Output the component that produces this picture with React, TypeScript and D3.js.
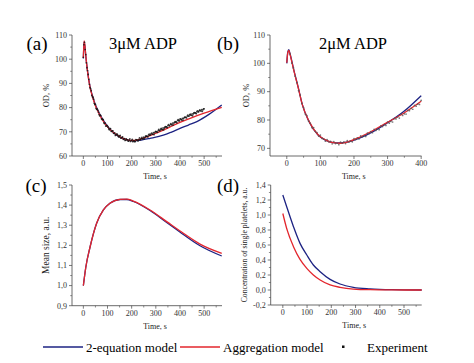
import React from "react";
import * as d3 from "d3";

// time axis (s) and values
const blueA_t = [0, 3, 6, 10, 17, 28, 38, 48, 65, 83, 104, 120, 138, 160, 186, 207, 240, 276, 331, 365, 400, 435, 470, 520, 573];
const blueA_v = [100.3, 107.2, 105.8, 101.5, 95.3, 88.5, 84.8, 81.7, 77.9, 74.7, 71.8, 70.1, 68.6, 67.4, 66.6, 66.3, 66.6, 67.3, 68.6, 69.9, 71.4, 72.8, 74.2, 77.2, 81.1];
const redA_t = [0, 3, 6, 10, 17, 28, 38, 48, 65, 83, 104, 120, 138, 160, 186, 205, 221, 262, 300, 331, 365, 400, 450, 500, 573];
const redA_v = [100.5, 107.6, 106, 101.5, 95.2, 88.2, 84.5, 81.3, 77.5, 74.3, 71.6, 70.1, 68.8, 67.5, 66.6, 66.4, 66.6, 67.9, 69.4, 70.7, 72.3, 73.9, 75.9, 77.7, 80.1];
const expA_t = d3.range(0, 501, 5);
const expA_v = [100.8, 107.0, 101.9, 96.5, 93.7, 89.6, 87.8, 85.1, 84.2, 81.8, 81.3, 79.3, 78.9, 77.1, 76.9, 75.4, 75.2, 73.7, 73.6, 72.4,
  72.4, 71.2, 71.3, 70.2, 70.4, 69.4, 69.6, 68.7, 69.0, 68.1, 68.3, 67.4, 67.7, 66.9, 67.2, 66.5, 66.8, 66.2, 66.6, 66.0,
  66.5, 65.9, 66.4, 66.0, 66.7, 66.3, 66.9, 66.7, 67.3, 67.1, 67.8, 67.6, 68.2, 68.1, 68.7, 68.6, 69.2, 69.1, 69.7, 69.6,
  70.2, 70.0, 70.6, 70.5, 71.1, 71.0, 71.6, 71.5, 72.1, 72.0, 72.6, 72.5, 73.1, 73.0, 73.6, 73.6, 74.2, 74.1, 74.7, 74.6,
  75.2, 75.0, 75.6, 75.5, 76.1, 76.0, 76.5, 76.5, 77.0, 76.9, 77.4, 77.4, 77.9, 77.8, 78.3, 78.2, 78.8, 78.7, 79.2, 79.1, 79.5];
const expA2_t = d3.range(2.5, 500, 5);
const expA2_v = [106.0, 104.0, 98.5, 95.3, 91.7, 88.3, 87.0, 84.5, 83.5, 81.3, 79.7, 79.4, 78.1, 76.6, 76.7, 75.1, 74.9, 73.4, 72.4, 72.7,
  71.9, 70.8, 71.3, 70.2, 70.4, 69.3, 68.5, 69.1, 68.6, 67.8, 68.5, 67.5, 67.9, 67.0, 66.4, 67.1, 66.7, 66.1, 67.1, 66.3,
  66.9, 66.2, 65.9, 66.8, 66.7, 66.3, 67.5, 66.9, 67.7, 67.2, 67.1, 68.2, 68.2, 67.9, 69.1, 68.7, 69.5, 69.0, 68.8, 70.0,
  70.0, 69.8, 71.0, 70.5, 71.4, 70.9, 70.8, 71.9, 72.0, 71.7, 73.0, 72.5, 73.4, 72.9, 72.8, 73.9, 74.0, 73.7, 75.0, 74.5,
  75.4, 74.9, 74.8, 75.9, 76.0, 75.7, 76.9, 76.5, 77.3, 76.8, 76.6, 77.8, 77.8, 77.5, 78.7, 78.3, 79.1, 78.6, 78.4, 79.5];

const blueB_t = [0, 3, 6, 10, 21, 34, 46, 66, 93, 115, 138, 160, 179, 218, 258, 298, 348, 400];
const blueB_v = [100, 104, 104.8, 103.2, 97.6, 91.5, 85.5, 79.5, 74.7, 72.9, 72, 71.9, 72.2, 73.7, 76.0, 78.9, 83.0, 88.6];
const redB_t = [0, 3, 6, 10, 21, 34, 46, 66, 93, 115, 138, 160, 179, 218, 258, 298, 348, 400];
const redB_v = [100.2, 103.8, 104.6, 103, 97.4, 91.4, 85.5, 79.6, 74.8, 73, 72, 71.8, 72.2, 74.0, 76.4, 79.1, 82.4, 86.6];
const expB_t = d3.range(10, 401, 5);
const expB_v = [103.3, 100.1, 98.4, 95.4, 93.2, 90.4, 88.8, 85.9, 84.4, 82.1, 81.6, 79.6, 78.8, 77.3, 77.3, 76.0, 75.6, 74.3, 74.7, 73.5,
  73.3, 72.5, 73.1, 72.3, 72.5, 71.6, 72.4, 71.7, 71.8, 71.3, 72.2, 71.8, 72.3, 71.7, 72.7, 72.2, 72.6, 72.3, 73.4, 73.1,
  73.7, 73.3, 74.4, 74.0, 74.5, 74.2, 75.4, 75.2, 75.9, 75.5, 76.7, 76.3, 76.8, 76.6, 77.9, 77.7, 78.4, 78.1, 79.3, 78.9,
  79.5, 79.3, 80.5, 80.4, 81.1, 80.7, 82.0, 81.6, 82.2, 82.1, 83.4, 83.3, 84.1, 83.8, 85.2, 84.9, 85.6, 85.5, 86.9];

const blueC_t = [0, 10, 28, 55, 83, 110, 152, 180, 207, 276, 345, 414, 483, 573];
const blueC_v = [1.0, 1.09, 1.193, 1.31, 1.376, 1.409, 1.428, 1.428, 1.418, 1.373, 1.314, 1.254, 1.198, 1.147];
const redC_t = [0, 10, 28, 55, 83, 110, 152, 180, 207, 276, 345, 414, 483, 573];
const redC_v = [1.0, 1.09, 1.193, 1.31, 1.376, 1.409, 1.429, 1.43, 1.42, 1.376, 1.318, 1.26, 1.206, 1.16];

const blueD_t = [0, 16, 44, 71, 99, 126, 154, 195, 236, 291, 360, 450, 573];
const blueD_v = [1.267, 1.11, 0.844, 0.622, 0.467, 0.333, 0.244, 0.142, 0.08, 0.036, 0.015, 0.004, 0.0];
const redD_t = [0, 16, 44, 71, 99, 126, 154, 195, 236, 291, 360, 450, 573];
const redD_v = [1.02, 0.82, 0.578, 0.409, 0.289, 0.2, 0.133, 0.067, 0.036, 0.013, 0.004, 0.001, 0.0];

const timeTicks = [0, 100, 200, 300, 400, 500];
const timeTicksB = [0, 100, 200, 300, 400];

const BLUE = "#1d2383";
const RED = "#e3262d";
const AXC = "#444";
const FONT = "\"Liberation Serif\", \"DejaVu Serif\", \"Times New Roman\", serif";

const zip = (t: number[], v: number[]) => t.map((d, i) => [d, v[i]] as [number, number]);
const comma = (d: number) => d3.format(".1f")(d).replace(".", ",").replace("\u2212", "-");

function Panel(props: any) {
  const { left, right, top, bottom, xDomain, yDomain, xTicks, yTicks, yMinorStep, yFmt, blue, red, exp, expColor, yLabel, yLabelX, yLabelSize } = props;
  const x = d3.scaleLinear().domain(xDomain).range([left, right]);
  const y = d3.scaleLinear().domain(yDomain).range([bottom, top]);
  const line = d3.line<[number, number]>().x(d => x(d[0])).y(d => y(d[1])).curve(d3.curveMonotoneX);
  const xMinor = d3.range(50, xDomain[1], 100);
  const yMinor = d3.range(yTicks[0] + yMinorStep, yDomain[1], yMinorStep * 2);
  return (
    <g>
      <line x1={left} x2={right} y1={bottom} y2={bottom} stroke={AXC} strokeWidth={0.8} />
      <line x1={left} x2={left} y1={top} y2={bottom} stroke={AXC} strokeWidth={0.8} />
      {xTicks.map((t: number) => (
        <g key={"x" + t}>
          <line x1={x(t)} x2={x(t)} y1={bottom} y2={bottom + 3} stroke={AXC} strokeWidth={0.7} />
          <text x={x(t)} y={bottom + 10} fontSize={8} textAnchor="middle" fill="#333">{t}</text>
        </g>
      ))}
      {xMinor.map((t: number) => (
        <line key={"xm" + t} x1={x(t)} x2={x(t)} y1={bottom} y2={bottom + 1.8} stroke={AXC} strokeWidth={0.6} />
      ))}
      {yTicks.map((t: number) => (
        <g key={"y" + t}>
          <line x1={left - 3} x2={left} y1={y(t)} y2={y(t)} stroke={AXC} strokeWidth={0.7} />
          <text x={left - 5} y={y(t) + 2.8} fontSize={8} textAnchor="end" fill="#333">{yFmt(t)}</text>
        </g>
      ))}
      {yMinor.map((t: number) => (
        <line key={"ym" + t} x1={left - 1.8} x2={left} y1={y(t)} y2={y(t)} stroke={AXC} strokeWidth={0.6} />
      ))}
      <path d={line(blue) || ""} fill="none" stroke={BLUE} strokeWidth={1.3} />
      <path d={line(red) || ""} fill="none" stroke={RED} strokeWidth={1.3} />
      {exp && exp.map((d: [number, number], i: number) => (
        <circle key={i} cx={x(d[0])} cy={y(d[1])} r={0.85} fill={expColor} opacity={0.8} />
      ))}
      <text transform={`translate(${yLabelX},${(top + bottom) / 2}) rotate(-90)`} fontSize={yLabelSize} textAnchor="middle" fill="#222">{yLabel}</text>
      <text x={(left + right) / 2 + 8} y={bottom + 23} fontSize={8} textAnchor="middle" fill="#222">Time, s</text>
    </g>
  );
}

export default function App() {
  return (
    <svg width={474} height={363} style={{ position: "absolute", left: 0, top: 0, background: "#fff", fontFamily: FONT }}>
      <Panel left={72} right={222} top={35} bottom={156} xDomain={[-47, 574]} yDomain={[60, 110]}
        xTicks={timeTicks} yTicks={[60, 70, 80, 90, 100, 110]} yMinorStep={5} yFmt={(d: number) => String(d)}
        blue={zip(blueA_t, blueA_v)} red={zip(redA_t, redA_v)} exp={zip(expA_t, expA_v).concat(zip(expA2_t, expA2_v))}
        expColor="#111" yLabel="OD, %" yLabelX={49} yLabelSize={8.5} />
      <Panel left={270} right={421.5} top={35} bottom={156} xDomain={[-50, 401]} yDomain={[67.3, 110]}
        xTicks={timeTicksB} yTicks={[70, 80, 90, 100, 110]} yMinorStep={5} yFmt={(d: number) => String(d)}
        blue={zip(blueB_t, blueB_v)} red={zip(redB_t, redB_v)} exp={zip(expB_t, expB_v)} expColor="#555"
        yLabel="OD, %" yLabelX={249} yLabelSize={8.5} />
      <Panel left={72} right={222} top={185} bottom={305.7} xDomain={[-47, 574]} yDomain={[0.9, 1.5]}
        xTicks={timeTicks} yTicks={d3.range(0.9, 1.51, 0.1)} yMinorStep={0.05} yFmt={comma}
        blue={zip(blueC_t, blueC_v)} red={zip(redC_t, redC_v)} yLabel="Mean size, a.u." yLabelX={49} yLabelSize={9.5} />
      <Panel left={270.7} right={421.7} top={185} bottom={305} xDomain={[-50, 573]} yDomain={[-0.2, 1.4]}
        xTicks={timeTicks} yTicks={d3.range(-0.2, 1.41, 0.2)} yMinorStep={0.1} yFmt={comma}
        blue={zip(blueD_t, blueD_v)} red={zip(redD_t, redD_v)} yLabel="Concentration of single platelets, a.u."
        yLabelX={247} yLabelSize={7.7} />

      <text x={37} y={49.5} fontSize={19} textAnchor="middle">(a)</text>
      <text x={228} y={49.5} fontSize={19} textAnchor="middle">(b)</text>
      <text x={36} y={191.5} fontSize={19} textAnchor="middle">(c)</text>
      <text x={228} y={191.5} fontSize={19} textAnchor="middle">(d)</text>
      <text x={143} y={48.5} fontSize={16.5} textAnchor="middle">3μM ADP</text>
      <text x={353} y={48.5} fontSize={16.5} textAnchor="middle">2μM ADP</text>

      <g fontSize={13}>
        <line x1={43} x2={83} y1={347} y2={347} stroke={BLUE} strokeWidth={1.3} />
        <text x={86} y={351.5}>2-equation model</text>
        <line x1={180} x2={220} y1={347} y2={347} stroke={RED} strokeWidth={1.3} />
        <text x={223} y={351.5}>Aggregation model</text>
        <rect x={342} y={345.5} width={2.5} height={2.5} fill="#111" />
        <text x={367} y={351.5}>Experiment</text>
      </g>
    </svg>
  );
}
